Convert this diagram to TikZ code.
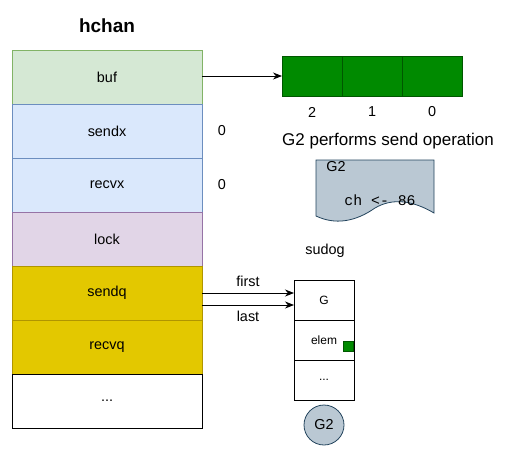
\documentclass[tikz,border=0pt]{standalone}
\usepackage{fontspec}
\setmainfont{Liberation Sans}
\setmonofont{Liberation Mono}
\usetikzlibrary{positioning}
\usetikzlibrary{arrows.meta}

\definecolor{bufgreen}{HTML}{D5E8D4}
\definecolor{bufedge}{HTML}{82B366}
\definecolor{idxblue}{HTML}{DAE8FC}
\definecolor{idxedge}{HTML}{6C8EBF}
\definecolor{lockpurple}{HTML}{E1D5E7}
\definecolor{lockedge}{HTML}{9673A6}
\definecolor{qyellow}{HTML}{E3C800}
\definecolor{qedge}{HTML}{B09500}
\definecolor{slotgreen}{HTML}{008A00}
\definecolor{slotedge}{HTML}{005700}
\definecolor{gorgray}{HTML}{BAC8D3}
\definecolor{goredge}{HTML}{23445D}

\begin{document}
\begin{tikzpicture}[x=1pt,y=-1pt,line width=0.8pt,
fieldnode/.style={rectangle, draw, minimum width=190pt, minimum height=54pt, inner sep=0pt, outer sep=0pt, font=\fontsize{14.4}{17}\selectfont},
slotnode/.style={rectangle, draw=slotedge, fill=slotgreen, minimum width=60pt, minimum height=40pt, inner sep=0pt, outer sep=0pt},
sudognode/.style={rectangle, draw, minimum width=60pt, minimum height=40pt, inner sep=0pt, outer sep=0pt, font=\fontsize{12}{14}\selectfont},
plaintext/.style={inner sep=0pt, font=\fontsize{14.4}{17}\selectfont},
>={Stealth[length=9pt,width=7pt]}
]
\useasboundingbox (0,0) rectangle (513,456);

%Title
\node[font=\bfseries\fontsize{19}{22}\selectfont] (title) at (107,26) {hchan};

%hchan fields
\node[fieldnode, draw=bufedge, fill=bufgreen]       (buf)   at (107,77) {buf};
\node[fieldnode, draw=idxedge, fill=idxblue]        (sendx) [below=0pt of buf] {sendx};
\node[fieldnode, draw=idxedge, fill=idxblue]        (recvx) [below=0pt of sendx] {recvx};
\node[fieldnode, draw=lockedge, fill=lockpurple]    (lock)  [below=0pt of recvx] {lock};
\node[fieldnode, draw=qedge, fill=qyellow]          (sendq) [below=0pt of lock] {sendq};
\node[fieldnode, draw=qedge, fill=qyellow]          (recvq) [below=0pt of sendq] {recvq};
\node[fieldnode, draw=black, fill=white]            (rest)  [below=0pt of recvq] {...};

\node[plaintext] (sendxval) at (222,131) {0};
\node[plaintext] (recvxval) at (222,185) {0};

%Ring buffer
\node[slotnode] (slot2) at (312,76) {};
\node[slotnode] (slot1) [right=0pt of slot2] {};
\node[slotnode] (slot0) [right=0pt of slot1] {};
\node[plaintext] (idx2) at (312,112) {2};
\node[plaintext] (idx1) at (372,112) {1};
\node[plaintext] (idx0) at (432,112) {0};

%Sending goroutine
\node[inner sep=0pt, font=\fontsize{17}{20}\selectfont] (caption) at (388,141) {G2 performs send operation};
\draw[draw=goredge, fill=gorgray] (316,160) -- (434,160) -- (434,213)
  .. controls (412,200) and (392,198) .. (375,208)
  .. controls (355,222) and (335,225) .. (316,216) -- cycle;
\node[plaintext, anchor=west] (gname) at (326,167) {G2};
\node[inner sep=0pt, font=\ttfamily\fontsize{14.8}{17}\selectfont] (code) at (380,200) {ch <- 86};

%sudog
\node[plaintext] (sudoglabel) at (325,251) {sudog};
\node[sudognode] (sg)    at (324,300) {G};
\node[sudognode] (selem) [below=0pt of sg] {elem};
\node[sudognode] (srest) [below=0pt of selem] {...};
\node[rectangle, draw=slotedge, fill=slotgreen, minimum size=10pt, inner sep=0pt] (elemval) at (348,346) {};
\node[circle, draw=goredge, fill=gorgray, minimum size=40pt, inner sep=0pt, font=\fontsize{14.4}{17}\selectfont] (gor) at (324,425) {G2};

%Lines
\draw[->] ([yshift=1pt]buf.east) -- (slot2.west);
\draw[->] (sendq.east) -- node[plaintext, above=6pt] (firstlabel) {first} ([yshift=7pt]sg.west);
\draw[->] ([yshift=-12pt]sendq.east) -- node[plaintext, below=6pt] (lastlabel) {last} ([yshift=-5pt]sg.west);
\end{tikzpicture}
\end{document}
